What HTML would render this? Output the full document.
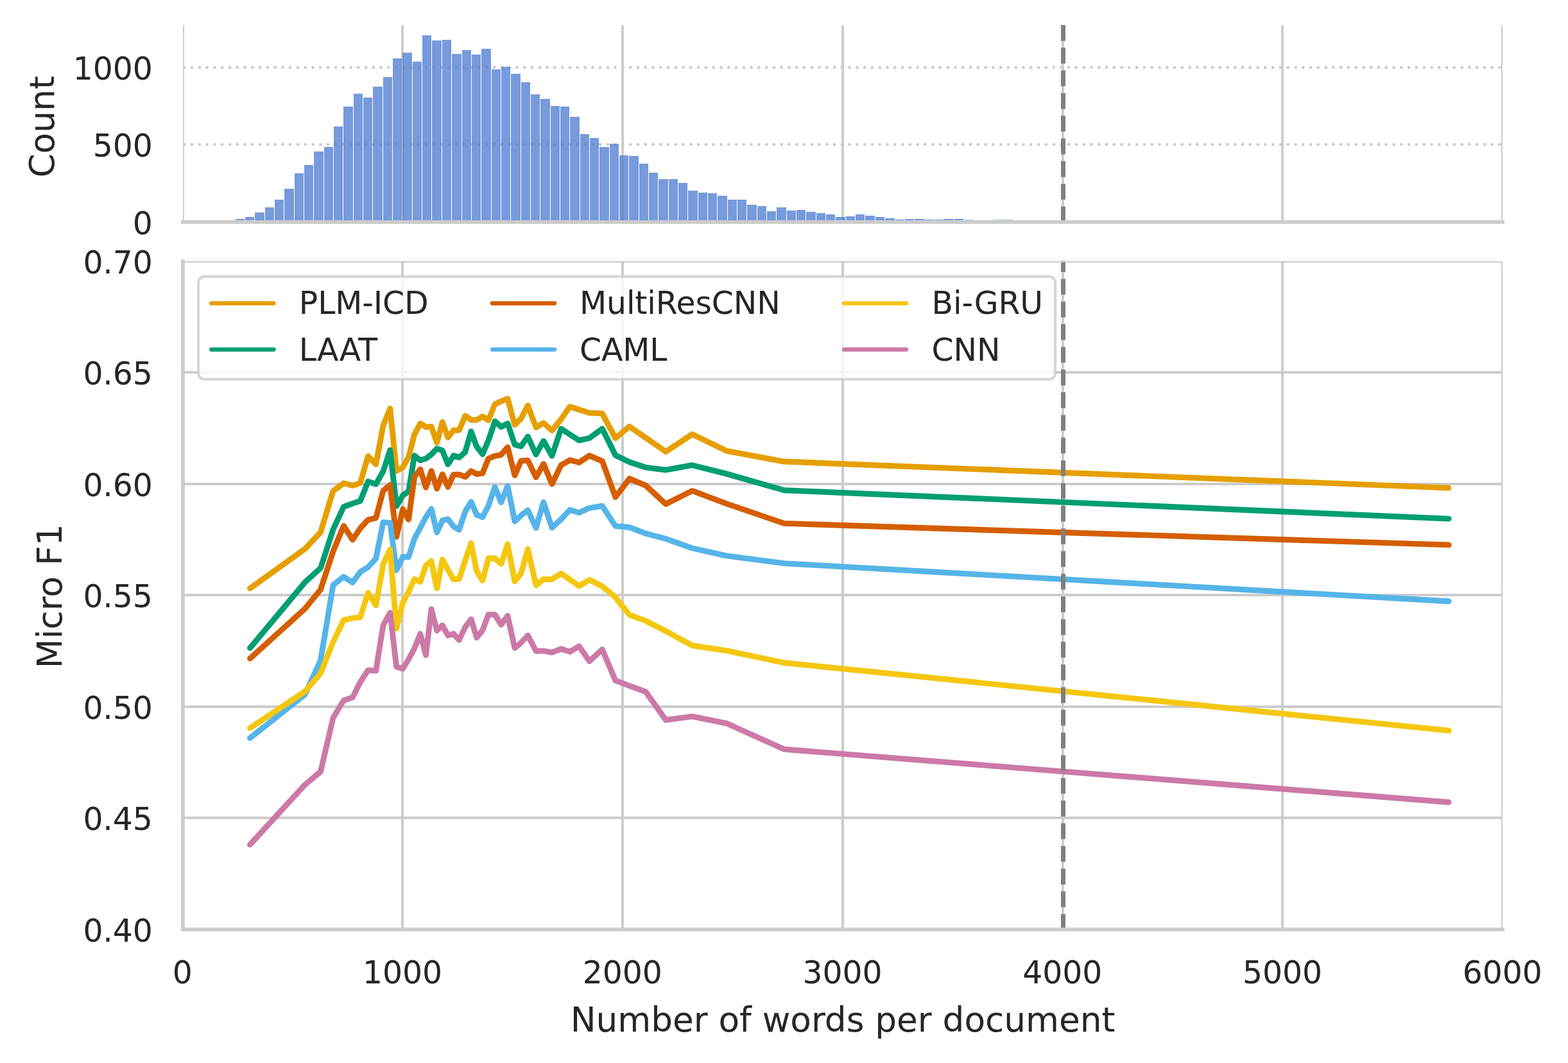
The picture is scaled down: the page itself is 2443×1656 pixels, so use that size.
<!DOCTYPE html>
<html lang="en"><head><meta charset="utf-8"><title>Micro F1 vs number of words per document</title>
<style>html,body{margin:0;padding:0;background:#fff}svg{display:block}text{font-family:"DejaVu Sans", "Liberation Sans", sans-serif;fill:#262626}.t{font-size:48.889px;letter-spacing:-0.13px}.l{font-size:53.333px;letter-spacing:-0.05px}</style></head><body>
<svg xmlns="http://www.w3.org/2000/svg" width="2443" height="1656" viewBox="0 0 2443 1656">
<rect width="2443" height="1656" fill="#ffffff"/>
<g id="hist">
<rect x="625.0" y="39.0" width="4" height="306.9" fill="#cccccc"/>
<rect x="968.0" y="39.0" width="4" height="306.9" fill="#cccccc"/>
<rect x="1311.0" y="39.0" width="4" height="306.9" fill="#cccccc"/>
<rect x="1654.0" y="39.0" width="4" height="306.9" fill="#cccccc"/>
<rect x="1996.0" y="39.0" width="4" height="306.9" fill="#cccccc"/>
<line x1="285.20" y1="105.10" x2="2339.00" y2="105.10" stroke="#cccccc" stroke-width="4" stroke-dasharray="4.2 7.577" stroke-dashoffset="0.00"/>
<line x1="285.20" y1="225.10" x2="2339.00" y2="225.10" stroke="#cccccc" stroke-width="4" stroke-dasharray="4.2 7.577" stroke-dashoffset="0.00"/>
<rect x="367" y="341" width="14" height="5" fill="#4878d0" fill-opacity="0.75"/>
<rect x="382" y="338" width="14" height="8" fill="#4878d0" fill-opacity="0.75"/>
<rect x="397" y="331" width="15" height="15" fill="#4878d0" fill-opacity="0.75"/>
<rect x="413" y="323" width="14" height="23" fill="#4878d0" fill-opacity="0.75"/>
<rect x="428" y="311" width="14" height="35" fill="#4878d0" fill-opacity="0.75"/>
<rect x="443" y="294" width="15" height="52" fill="#4878d0" fill-opacity="0.75"/>
<rect x="459" y="270" width="14" height="76" fill="#4878d0" fill-opacity="0.75"/>
<rect x="474" y="257" width="14" height="89" fill="#4878d0" fill-opacity="0.75"/>
<rect x="489" y="236" width="15" height="110" fill="#4878d0" fill-opacity="0.75"/>
<rect x="505" y="229" width="14" height="117" fill="#4878d0" fill-opacity="0.75"/>
<rect x="520" y="197" width="14" height="149" fill="#4878d0" fill-opacity="0.75"/>
<rect x="535" y="166" width="15" height="180" fill="#4878d0" fill-opacity="0.75"/>
<rect x="551" y="146" width="14" height="200" fill="#4878d0" fill-opacity="0.75"/>
<rect x="566" y="152" width="14" height="194" fill="#4878d0" fill-opacity="0.75"/>
<rect x="581" y="135" width="15" height="211" fill="#4878d0" fill-opacity="0.75"/>
<rect x="597" y="120" width="14" height="226" fill="#4878d0" fill-opacity="0.75"/>
<rect x="612" y="91" width="14" height="255" fill="#4878d0" fill-opacity="0.75"/>
<rect x="627" y="82" width="15" height="264" fill="#4878d0" fill-opacity="0.75"/>
<rect x="643" y="96" width="14" height="250" fill="#4878d0" fill-opacity="0.75"/>
<rect x="658" y="55" width="14" height="291" fill="#4878d0" fill-opacity="0.75"/>
<rect x="673" y="63" width="15" height="283" fill="#4878d0" fill-opacity="0.75"/>
<rect x="689" y="62" width="14" height="284" fill="#4878d0" fill-opacity="0.75"/>
<rect x="704" y="84" width="15" height="262" fill="#4878d0" fill-opacity="0.75"/>
<rect x="720" y="78" width="14" height="268" fill="#4878d0" fill-opacity="0.75"/>
<rect x="735" y="85" width="14" height="261" fill="#4878d0" fill-opacity="0.75"/>
<rect x="750" y="76" width="15" height="270" fill="#4878d0" fill-opacity="0.75"/>
<rect x="766" y="108" width="14" height="238" fill="#4878d0" fill-opacity="0.75"/>
<rect x="781" y="104" width="14" height="242" fill="#4878d0" fill-opacity="0.75"/>
<rect x="796" y="115" width="15" height="231" fill="#4878d0" fill-opacity="0.75"/>
<rect x="812" y="128" width="14" height="218" fill="#4878d0" fill-opacity="0.75"/>
<rect x="827" y="147" width="14" height="199" fill="#4878d0" fill-opacity="0.75"/>
<rect x="842" y="154" width="15" height="192" fill="#4878d0" fill-opacity="0.75"/>
<rect x="858" y="165" width="14" height="181" fill="#4878d0" fill-opacity="0.75"/>
<rect x="873" y="166" width="14" height="180" fill="#4878d0" fill-opacity="0.75"/>
<rect x="888" y="182" width="15" height="164" fill="#4878d0" fill-opacity="0.75"/>
<rect x="904" y="209" width="14" height="137" fill="#4878d0" fill-opacity="0.75"/>
<rect x="919" y="215" width="14" height="131" fill="#4878d0" fill-opacity="0.75"/>
<rect x="934" y="229" width="15" height="117" fill="#4878d0" fill-opacity="0.75"/>
<rect x="950" y="224" width="14" height="122" fill="#4878d0" fill-opacity="0.75"/>
<rect x="965" y="242" width="14" height="104" fill="#4878d0" fill-opacity="0.75"/>
<rect x="980" y="243" width="15" height="103" fill="#4878d0" fill-opacity="0.75"/>
<rect x="996" y="255" width="14" height="91" fill="#4878d0" fill-opacity="0.75"/>
<rect x="1011" y="269" width="14" height="77" fill="#4878d0" fill-opacity="0.75"/>
<rect x="1026" y="279" width="15" height="67" fill="#4878d0" fill-opacity="0.75"/>
<rect x="1042" y="279" width="14" height="67" fill="#4878d0" fill-opacity="0.75"/>
<rect x="1057" y="285" width="14" height="61" fill="#4878d0" fill-opacity="0.75"/>
<rect x="1072" y="297" width="15" height="49" fill="#4878d0" fill-opacity="0.75"/>
<rect x="1088" y="300" width="14" height="46" fill="#4878d0" fill-opacity="0.75"/>
<rect x="1103" y="301" width="14" height="45" fill="#4878d0" fill-opacity="0.75"/>
<rect x="1118" y="305" width="15" height="41" fill="#4878d0" fill-opacity="0.75"/>
<rect x="1134" y="311" width="14" height="35" fill="#4878d0" fill-opacity="0.75"/>
<rect x="1149" y="311" width="14" height="35" fill="#4878d0" fill-opacity="0.75"/>
<rect x="1164" y="319" width="15" height="27" fill="#4878d0" fill-opacity="0.75"/>
<rect x="1180" y="321" width="14" height="25" fill="#4878d0" fill-opacity="0.75"/>
<rect x="1195" y="329" width="14" height="17" fill="#4878d0" fill-opacity="0.75"/>
<rect x="1210" y="323" width="15" height="23" fill="#4878d0" fill-opacity="0.75"/>
<rect x="1226" y="328" width="14" height="18" fill="#4878d0" fill-opacity="0.75"/>
<rect x="1241" y="327" width="14" height="19" fill="#4878d0" fill-opacity="0.75"/>
<rect x="1256" y="330" width="15" height="16" fill="#4878d0" fill-opacity="0.75"/>
<rect x="1272" y="332" width="14" height="14" fill="#4878d0" fill-opacity="0.75"/>
<rect x="1287" y="334" width="14" height="12" fill="#4878d0" fill-opacity="0.75"/>
<rect x="1302" y="338" width="15" height="8" fill="#4878d0" fill-opacity="0.75"/>
<rect x="1318" y="337" width="14" height="9" fill="#4878d0" fill-opacity="0.75"/>
<rect x="1333" y="334" width="14" height="12" fill="#4878d0" fill-opacity="0.75"/>
<rect x="1348" y="336" width="15" height="10" fill="#4878d0" fill-opacity="0.75"/>
<rect x="1364" y="338" width="14" height="8" fill="#4878d0" fill-opacity="0.75"/>
<rect x="1379" y="340" width="15" height="6" fill="#4878d0" fill-opacity="0.75"/>
<rect x="1395" y="342" width="14" height="4" fill="#4878d0" fill-opacity="0.75"/>
<rect x="1410" y="341" width="14" height="5" fill="#4878d0" fill-opacity="0.75"/>
<rect x="1425" y="341" width="15" height="5" fill="#4878d0" fill-opacity="0.75"/>
<rect x="1441" y="342" width="14" height="4" fill="#4878d0" fill-opacity="0.75"/>
<rect x="1456" y="342" width="14" height="4" fill="#4878d0" fill-opacity="0.75"/>
<rect x="1471" y="341" width="15" height="5" fill="#4878d0" fill-opacity="0.75"/>
<rect x="1487" y="341" width="14" height="5" fill="#4878d0" fill-opacity="0.75"/>
<rect x="1502" y="342" width="14" height="4" fill="#4878d0" fill-opacity="0.40"/>
<rect x="1548" y="342" width="14" height="4" fill="#4878d0" fill-opacity="0.40"/>
<rect x="1563" y="342" width="15" height="4" fill="#4878d0" fill-opacity="0.40"/>
<line x1="1656.50" y1="346.40" x2="1656.50" y2="39.00" stroke="#808080" stroke-width="7" stroke-dasharray="24.67 10.67"/>
<rect x="285" y="39.0" width="2" height="306.9" fill="#cccccc"/>
<rect x="2339" y="39.0" width="2" height="306.9" fill="#cccccc"/>
<rect x="282" y="343.05" width="2062" height="5.75" fill="#cccccc"/>
</g>
<g id="f1">
<rect x="625.0" y="406.6" width="4" height="1041.3" fill="#cccccc"/>
<rect x="968.0" y="406.6" width="4" height="1041.3" fill="#cccccc"/>
<rect x="1311.0" y="406.6" width="4" height="1041.3" fill="#cccccc"/>
<rect x="1654.0" y="406.6" width="4" height="1041.3" fill="#cccccc"/>
<rect x="1996.0" y="406.6" width="4" height="1041.3" fill="#cccccc"/>
<rect x="284.3" y="578.1" width="2056.4" height="4" fill="#cccccc"/>
<rect x="284.3" y="752.0" width="2056.4" height="4" fill="#cccccc"/>
<rect x="284.3" y="925.0" width="2056.4" height="4" fill="#cccccc"/>
<rect x="284.3" y="1099.0" width="2056.4" height="4" fill="#cccccc"/>
<rect x="284.3" y="1272.1" width="2056.4" height="4" fill="#cccccc"/>
<polyline points="389.50,916.65 475.10,855.20 499.50,829.10 519.00,764.80 535.40,752.80 549.40,756.50 561.30,752.60 573.50,710.60 585.70,723.40 597.00,663.20 607.80,636.40 617.70,733.60 627.60,728.20 636.60,711.90 645.70,676.90 654.80,659.80 663.50,665.20 672.10,664.70 680.70,689.70 689.30,657.50 697.90,681.60 706.60,670.30 715.30,670.30 724.80,647.80 734.00,654.00 742.70,654.30 751.80,648.90 761.00,654.60 771.10,629.70 780.80,625.10 790.90,621.00 802.00,661.80 811.80,652.00 822.40,631.80 835.10,665.80 846.80,659.00 860.00,670.60 874.20,653.00 887.90,633.40 902.20,638.30 918.40,643.20 938.30,644.10 958.90,682.60 980.65,664.30 1006.10,682.00 1037.30,703.70 1078.50,676.50 1131.80,702.30 1221.70,719.05 2257.20,760.10" fill="none" stroke="#E69F00" stroke-width="8.89" stroke-linejoin="round" stroke-linecap="round"/>
<polyline points="389.50,1009.60 475.10,907.05 499.50,885.00 519.00,825.00 535.40,789.50 549.40,784.40 561.30,780.50 573.50,750.10 585.70,754.20 597.00,734.30 607.80,701.20 617.70,788.50 627.60,771.70 636.60,765.60 645.70,709.80 654.80,717.10 663.50,714.50 672.10,707.90 680.70,698.90 689.30,701.80 697.90,723.40 706.60,709.80 715.30,712.55 724.80,704.30 734.00,672.00 742.70,695.70 751.80,707.50 761.00,686.00 771.10,656.20 780.80,665.00 790.90,659.70 802.00,692.60 811.80,695.30 822.40,680.00 835.10,708.00 846.80,686.95 860.00,710.20 874.20,667.85 887.90,676.90 902.20,686.10 918.40,682.50 938.30,667.85 958.90,709.15 980.65,719.80 1006.10,728.20 1037.30,732.20 1078.50,724.70 1131.80,738.10 1221.70,763.70 2257.20,808.10" fill="none" stroke="#009E73" stroke-width="8.89" stroke-linejoin="round" stroke-linecap="round"/>
<polyline points="389.50,1025.90 475.10,948.20 499.50,918.50 519.00,859.05 535.40,819.30 549.40,840.70 561.30,823.00 573.50,809.80 585.70,806.90 597.00,764.60 607.80,755.50 617.70,836.30 627.60,793.20 636.60,809.20 645.70,742.90 654.80,731.10 663.50,759.30 672.10,733.70 680.70,761.30 689.30,738.80 697.90,758.60 706.60,739.40 715.30,739.10 724.80,743.00 734.00,733.90 742.70,738.50 751.80,737.30 761.00,714.50 771.10,710.40 780.80,708.40 790.90,696.60 802.00,740.50 811.80,718.00 822.40,717.10 835.10,743.50 846.80,722.70 860.00,754.00 874.20,724.60 887.90,716.80 902.20,720.50 918.40,709.80 938.30,718.30 958.90,774.40 980.65,745.60 1006.10,756.40 1037.30,785.20 1078.50,764.60 1131.80,784.60 1221.70,815.40 2257.20,848.90" fill="none" stroke="#D55E00" stroke-width="8.89" stroke-linejoin="round" stroke-linecap="round"/>
<polyline points="389.50,1149.70 475.10,1082.00 499.50,1028.70 519.00,911.40 535.40,898.60 549.40,907.40 561.30,891.05 573.50,883.40 585.70,870.20 597.00,813.80 607.80,814.35 617.70,888.40 627.60,867.20 636.60,867.70 645.70,839.20 654.80,822.00 663.50,805.70 672.10,792.70 680.70,829.50 689.30,810.80 697.90,808.70 706.60,820.10 715.30,825.40 724.80,796.90 734.00,781.75 742.70,802.00 751.80,805.60 761.00,787.75 771.10,758.70 780.80,782.60 790.90,757.20 802.00,812.20 811.80,803.00 822.40,794.80 835.10,822.40 846.80,782.30 860.00,822.20 874.20,809.10 887.90,794.25 902.20,798.70 918.40,791.30 938.30,788.10 958.90,819.60 980.65,821.50 1006.10,831.10 1037.30,839.40 1078.50,854.00 1131.80,865.90 1221.70,877.60 2257.20,936.70" fill="none" stroke="#56B4E9" stroke-width="8.89" stroke-linejoin="round" stroke-linecap="round"/>
<polyline points="389.50,1134.20 475.10,1077.20 499.50,1048.80 519.00,1000.10 535.40,966.00 549.40,962.80 561.30,961.50 573.50,923.60 585.70,943.10 597.00,878.90 607.80,855.90 617.70,979.30 627.60,939.10 636.60,921.80 645.70,902.20 654.80,906.30 663.50,880.90 672.10,874.00 680.70,916.60 689.30,871.65 697.90,887.10 706.60,902.70 715.30,901.90 724.80,873.50 734.00,846.15 742.70,889.90 751.80,904.30 761.00,869.80 771.10,869.80 780.80,878.40 790.90,847.90 802.00,905.80 811.80,893.50 822.40,855.50 835.10,911.70 846.80,902.30 860.00,902.60 874.20,893.40 887.90,902.90 902.20,912.90 918.40,903.35 938.30,913.15 958.90,930.70 980.65,957.80 1006.10,967.20 1037.30,983.20 1078.50,1005.70 1131.80,1013.70 1221.70,1032.50 2257.20,1138.20" fill="none" stroke="#F5C710" stroke-width="8.89" stroke-linejoin="round" stroke-linecap="round"/>
<polyline points="389.50,1315.80 475.10,1222.60 499.50,1202.00 519.00,1118.30 535.40,1091.20 549.40,1086.40 561.30,1062.50 573.50,1044.10 585.70,1044.90 597.00,974.20 607.80,954.50 617.70,1038.80 627.60,1041.80 636.60,1027.00 645.70,1010.20 654.80,987.30 663.50,1020.70 672.10,949.00 680.70,982.40 689.30,974.10 697.90,990.00 706.60,987.30 715.30,997.10 724.80,976.90 734.00,964.60 742.70,993.25 751.80,982.00 761.00,957.40 771.10,957.40 780.80,973.20 790.90,959.30 802.00,1009.50 811.80,1001.30 822.40,990.00 835.10,1014.30 846.80,1014.00 860.00,1016.40 874.20,1010.80 887.90,1015.40 902.20,1006.80 918.40,1030.10 938.30,1011.70 958.90,1060.20 980.65,1068.30 1006.10,1077.70 1037.30,1121.60 1078.50,1116.10 1131.80,1126.80 1221.70,1167.30 2257.20,1249.70" fill="none" stroke="#CC79A7" stroke-width="8.89" stroke-linejoin="round" stroke-linecap="round"/>
<line x1="1656.50" y1="1448.60" x2="1656.50" y2="406.60" stroke="#808080" stroke-width="7" stroke-dasharray="24.67 10.67"/>
<rect x="285" y="407" width="2056" height="2" fill="#cccccc"/>
<rect x="2339" y="407" width="2" height="1041" fill="#cccccc"/>
<rect x="282.05" y="404.1" width="5.8" height="1046.7" fill="#cccccc"/>
<rect x="282.05" y="1445.05" width="2061.9" height="5.75" fill="#cccccc"/>
</g>
<g id="legend">
<rect x="309.1" y="430.9" width="1335.0" height="160.0" rx="9.2" ry="9.2" fill="#ffffff" fill-opacity="0.8" stroke="#cccccc" stroke-opacity="0.8" stroke-width="4.1"/>
<line x1="329.4" y1="472.5" x2="426.4" y2="472.5" stroke="#E69F00" stroke-width="6.67" stroke-linecap="round"/>
<text class="t" x="465.8" y="488.8">PLM-ICD</text>
<line x1="329.4" y1="544.5" x2="426.4" y2="544.5" stroke="#009E73" stroke-width="6.67" stroke-linecap="round"/>
<text class="t" x="465.8" y="561.9">LAAT</text>
<line x1="767.0" y1="472.5" x2="864.0" y2="472.5" stroke="#D55E00" stroke-width="6.67" stroke-linecap="round"/>
<text class="t" x="903.0" y="488.8">MultiResCNN</text>
<line x1="767.0" y1="544.5" x2="864.0" y2="544.5" stroke="#56B4E9" stroke-width="6.67" stroke-linecap="round"/>
<text class="t" x="903.0" y="561.9">CAML</text>
<line x1="1314.9" y1="472.5" x2="1411.9" y2="472.5" stroke="#F5C710" stroke-width="6.67" stroke-linecap="round"/>
<text class="t" x="1451.6" y="488.8">Bi-GRU</text>
<line x1="1314.9" y1="544.5" x2="1411.9" y2="544.5" stroke="#CC79A7" stroke-width="6.67" stroke-linecap="round"/>
<text class="t" x="1451.6" y="561.9">CNN</text>
</g>
<g id="ticks">
<text class="t" x="237.7" y="124.0" text-anchor="end">1000</text>
<text class="t" x="237.7" y="244.0" text-anchor="end">500</text>
<text class="t" x="237.7" y="364.8" text-anchor="end">0</text>
<text class="t" x="237.7" y="425.5" text-anchor="end">0.70</text>
<text class="t" x="237.7" y="599.0" text-anchor="end">0.65</text>
<text class="t" x="237.7" y="772.9" text-anchor="end">0.60</text>
<text class="t" x="237.7" y="945.9" text-anchor="end">0.55</text>
<text class="t" x="237.7" y="1119.9" text-anchor="end">0.50</text>
<text class="t" x="237.7" y="1293.0" text-anchor="end">0.45</text>
<text class="t" x="237.7" y="1466.8" text-anchor="end">0.40</text>
<text class="t" x="284.3" y="1532.2" text-anchor="middle">0</text>
<text class="t" x="627.0" y="1532.2" text-anchor="middle">1000</text>
<text class="t" x="969.8" y="1532.2" text-anchor="middle">2000</text>
<text class="t" x="1312.5" y="1532.2" text-anchor="middle">3000</text>
<text class="t" x="1655.3" y="1532.2" text-anchor="middle">4000</text>
<text class="t" x="1998.0" y="1532.2" text-anchor="middle">5000</text>
<text class="t" x="2340.7" y="1532.2" text-anchor="middle">6000</text>
</g>
<g id="labels">
<text class="l" x="1313" y="1606.8" text-anchor="middle">Number of words per document</text>
<text class="l" transform="translate(83.7 197.5) rotate(-90)" text-anchor="middle">Count</text>
<text class="l" transform="translate(96.4 928.8) rotate(-90)" text-anchor="middle">Micro F1</text>
</g>
</svg></body></html>
